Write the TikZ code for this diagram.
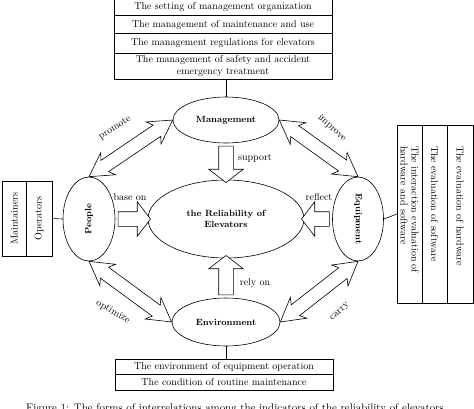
\documentclass[tikz,border=0pt]{standalone}
\usetikzlibrary{shapes.geometric,shapes.arrows,calc,positioning}

\tikzset{
  ell/.style={draw, ellipse, inner sep=0pt, align=center,
    font=\fontsize{9}{11}\selectfont\bfseries},
  cell/.style={draw, rectangle, minimum width=218pt, inner sep=1pt,
    outer sep=0pt, align=center},
  vcell/.style={draw, rectangle, inner sep=0pt, outer sep=0pt},
  onearrow/.style={draw, fill=white, single arrow, inner xsep=0pt,
    inner ysep=7pt, minimum width=0pt, single arrow head extend=10pt,
    single arrow tip angle=105},
  twoarrow/.style={draw, fill=white, double arrow, inner xsep=0pt,
    inner ysep=6.5pt, minimum width=0pt, double arrow head extend=6.5pt,
    double arrow tip angle=60, double arrow head indent=4pt},
  lbl/.style={inner sep=1pt}
}

% block arrow from one anchor to another: style, name, from, to
\newcommand{\blockarrow}[4]{%
  \path let \p1=($(#4)-(#3)$), \n1={atan2(\y1,\x1)}, \n2={veclen(\x1,\y1)} in
    node[#1, minimum height=\n2, rotate=\n1] (#2) at ($(#3)!0.5!(#4)$) {};}

\begin{document}
\begin{tikzpicture}[x=1pt, y=-1pt, line width=0.6pt,
    font=\fontsize{10}{12}\selectfont]
  \useasboundingbox (0,0) rectangle (474,408);

  % the five factors
  \node[ell, minimum width=106pt, minimum height=46pt] (mgmt) at (226,120) {Management};
  \node[ell, minimum width=156pt, minimum height=78pt] (rel) at (226,219)
    {the Reliability of\\Elevators};
  \node[ell, minimum width=52pt, minimum height=84pt] (people) at (89,219)
    {\rotatebox{90}{People}};
  \node[ell, minimum width=51pt, minimum height=84pt] (equip) at (358,219)
    {\rotatebox{-90}{Equipment}};
  \node[ell, minimum width=108pt, minimum height=48pt] (env) at (226,322) {Environment};

  % management indicators
  \node[cell, minimum height=17.7pt] (top1) at (223,6.9) {The setting of management organization};
  \node[cell, minimum height=17.6pt, below=0pt of top1] (top2) {The management of maintenance and use};
  \node[cell, minimum height=20pt, below=0pt of top2] (top3) {The management regulations for elevators};
  \node[cell, minimum height=26pt, below=0pt of top3] (top4)
    {The management of safety and accident\\emergency treatment};
  \draw (mgmt.north) -- (mgmt.north |- top4.south);

  % environment indicators
  \node[cell, minimum height=15pt] (bot1) at (224,366.5) {The environment of equipment operation};
  \node[cell, minimum height=16pt, below=0pt of bot1] (bot2) {The condition of routine maintenance};
  \draw (env.south) -- (env.south |- bot1.north);

  % people indicators
  \node[vcell, rotate=90, minimum width=75pt, minimum height=23.3pt] (maint) at (14.3,218.5) {Maintainers};
  \node[vcell, rotate=90, minimum width=75pt, minimum height=26pt] (oper) at (39,218.5) {Operators};
  \draw (oper.south) -- (people.west);

  % equipment indicators
  \begin{scope}[every node/.append style={vcell, rotate=-90, minimum width=178pt,
      text width=136pt, align=left, font=\fontsize{10}{11}\selectfont}]
    \node[minimum height=25pt] (inter) at (409.5,214)
      {The interaction evaluation of\\hardware and software};
    \node[minimum height=25pt] (soft) at (434.5,214) {The evaluation of software};
    \node[minimum height=26pt] (hard) at (460,214) {The evaluation of hardware};
  \end{scope}
  \draw (equip.east) -- (inter.south);

  % interrelations
  \blockarrow{twoarrow}{pm}{people.north}{mgmt.west}
  \blockarrow{twoarrow}{me}{mgmt.east}{equip.north}
  \blockarrow{twoarrow}{pe}{people.south}{env.west}
  \blockarrow{twoarrow}{ee}{env.east}{equip.south}
  \blockarrow{onearrow}{sup}{mgmt.south}{rel.north}
  \blockarrow{onearrow}{base}{people.east}{rel.west}
  \blockarrow{onearrow}{refl}{equip.west}{rel.east}
  \blockarrow{onearrow}{rely}{env.north}{rel.south}

  \node[lbl, rotate=33] (promote) at (115,128) {promote};
  \node[lbl, rotate=-42] (improve) at (332,128) {improve};
  \node[lbl, rotate=-30] (optimize) at (113,312) {optimize};
  \node[lbl, rotate=42] (carry) at (340,312) {carry};
  \node[lbl] (support) at (255,158) {support};
  \node[lbl] (baseon) at (130,197) {base on};
  \node[lbl] (reflect) at (319,197) {reflect};
  \node[lbl] (relyon) at (255,283) {rely on};

  \node[anchor=base, font=\fontsize{10.9}{13}\selectfont] (caption) at (235,411)
    {Figure 1: The forms of interrelations among the indicators of the reliability of elevators};
\end{tikzpicture}
\end{document}
